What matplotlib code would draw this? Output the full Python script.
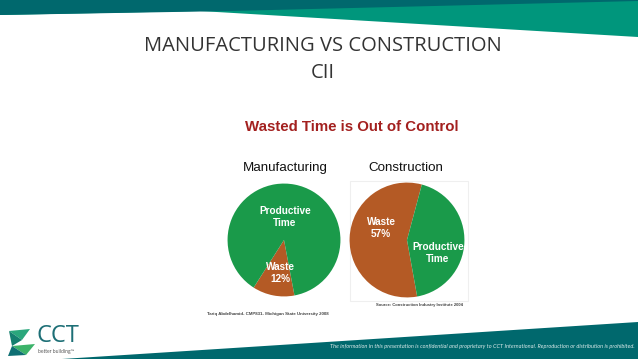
import matplotlib.pyplot as plt
from matplotlib.patches import Polygon, Rectangle

# chart data
pie_titles = ["Manufacturing", "Construction"]
waste_share = [12, 57]
productive_share = [88, 43]
waste_labels = ["Waste\n12%", "Waste\n57%"]
productive_label = "Productive\nTime"

W, H = 638, 359
GREEN = "#1a9a4a"
ORANGE = "#b45a25"
TEAL = "#00686d"
TEAL_LIGHT = "#00967c"

fig = plt.figure(figsize=(W / 100, H / 100), dpi=100)
fig.patch.set_facecolor("white")

# background layer in pixel coordinates
bg = fig.add_axes([0, 0, 1, 1])
bg.set_xlim(0, W)
bg.set_ylim(H, 0)
bg.axis("off")

# header bands
bg.add_patch(Polygon([(0, 0), (W, 0), (W, 37), (200, 11), (0, 15)], closed=True,
                     color=TEAL_LIGHT, lw=0))
bg.add_patch(Polygon([(0, 0), (W, 0), (W, 1), (230, 11), (0, 15)], closed=True,
                     color=TEAL, lw=0))
# footer band
bg.add_patch(Polygon([(62, H), (W, 322), (W, H)], closed=True, color=TEAL, lw=0))

# slide title
bg.text(323, 46, "MANUFACTURING VS CONSTRUCTION", ha="center", va="center",
        fontsize=14.5, family="Open Sans", color="#333333")
bg.text(323, 73, "CII", ha="center", va="center",
        fontsize=14.5, family="Open Sans", color="#333333")

# chart heading
bg.text(352, 127, "Wasted Time is Out of Control", ha="center", va="center",
        fontsize=10.8, family="Liberation Sans", fontweight="bold", color="#a3201f")
bg.text(285, 168, pie_titles[0], ha="center", va="center",
        fontsize=9.6, family="Liberation Sans", color="#111111")
bg.text(406, 168, pie_titles[1], ha="center", va="center",
        fontsize=9.6, family="Liberation Sans", color="#111111")

# faint frame behind the construction pie
bg.add_patch(Rectangle((350, 181), 118, 120, fill=False, ec="#efefef", lw=0.8))

# sources
bg.text(268, 314, "Tariq Abdelhamid- CMP831- Michigan State University 2008",
        ha="center", va="center", fontsize=3.2, family="Liberation Sans",
        fontweight="bold", color="#444444")
bg.text(419, 305, "Source: Construction Industry Institute 2004",
        ha="center", va="center", fontsize=3.0, family="Liberation Sans",
        fontweight="bold", color="#444444")

# footer text
bg.text(635, 346, "The information in this presentation is confidential and proprietary "
        "to CCT International. Reproduction or distribution is prohibited.",
        ha="right", va="center", fontsize=4.1, family="Lato", style="italic",
        color="#d8e8e8")

# logo
bg.add_patch(Polygon([(9, 331), (30, 329), (22, 340)], closed=True, color="#2aa77c", lw=0))
bg.add_patch(Polygon([(9, 331), (22, 340), (12, 346)], closed=True, color="#14806f", lw=0))
bg.add_patch(Polygon([(12, 346), (35, 344), (26, 355)], closed=True, color="#3cb36a", lw=0))
bg.add_patch(Polygon([(12, 346), (26, 355), (8, 356)], closed=True, color="#0e6f73", lw=0))
bg.text(36, 336, "CCT", ha="left", va="center", fontsize=17, family="Open Sans",
        color="#1d6f76")
bg.text(38, 352, "better building\u2122", ha="left", va="center", fontsize=3.6,
        family="Lato", color="#555555")


def pie_axes(cx, cy, r):
    return fig.add_axes([(cx - r) / W, (H - cy - r) / H, 2 * r / W, 2 * r / H])


# manufacturing pie
ax1 = pie_axes(284, 240, 57)
ax1.pie([waste_share[0], productive_share[0]], colors=[ORANGE, GREEN],
        startangle=237.5, counterclock=True)
ax1.set_xlim(-1.01, 1.01)
ax1.set_ylim(-1.01, 1.01)
ax1.set_aspect("auto")
ax1.axis("off")

# construction pie
ax2 = pie_axes(407, 240, 58)
ax2.pie([waste_share[1], productive_share[1]], colors=[ORANGE, GREEN],
        startangle=75, counterclock=True)
ax2.set_xlim(-1.01, 1.01)
ax2.set_ylim(-1.01, 1.01)
ax2.set_aspect("auto")
ax2.axis("off")

# pie labels on top
top = fig.add_axes([0, 0, 1, 1])
top.set_xlim(0, W)
top.set_ylim(H, 0)
top.axis("off")
lab = dict(ha="center", va="center", fontsize=7.2, family="Liberation Sans",
           fontweight="bold", color="white", linespacing=1.35)
top.text(285, 217, productive_label, **lab)
top.text(280, 273, waste_labels[0], **lab)
top.text(381, 228, waste_labels[1], **lab)
top.text(438, 253, productive_label, **lab)

fig.savefig("out.png", dpi=100)
